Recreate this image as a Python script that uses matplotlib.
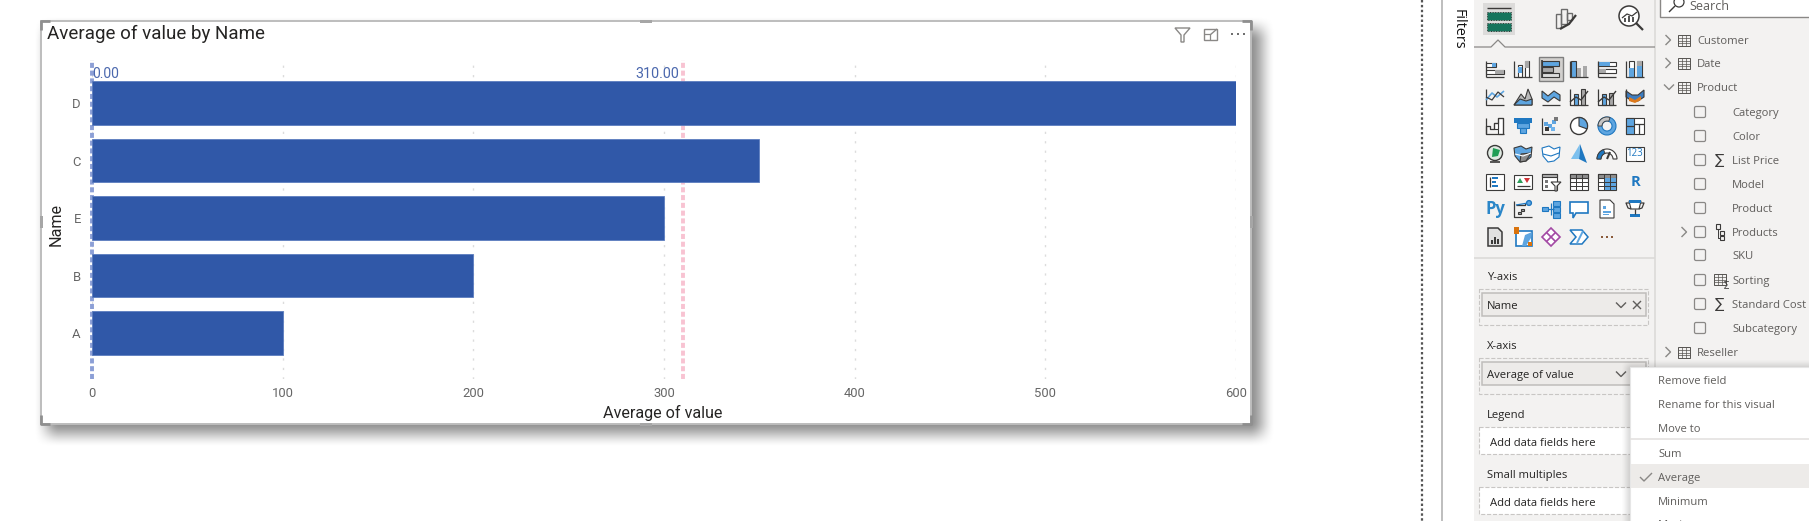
"""Power BI screenshot: average of value by name, with the report side panels."""

import matplotlib

matplotlib.use("Agg", force=True)
import matplotlib.pyplot as plt
import numpy as np
from matplotlib.patches import Circle, FancyBboxPatch, Polygon, Rectangle, Wedge

WIDTH, HEIGHT = 1809, 521

names = ["A", "B", "E", "C", "D"]
values = [100, 200, 300, 350, 600]
x_ticks = [0, 100, 200, 300, 400, 500, 600]
ref_zero = 0
ref_constant = 310

TITLE = "Average of value by Name"
X_TITLE = "Average of value"
Y_TITLE = "Name"

table_rows = [("Customer", 40), ("Date", 63), ("Product", 87), ("Reseller", 352)]
field_rows = [
    ("Category", 112, ""),
    ("Color", 136, ""),
    ("List Price", 160, "sum"),
    ("Model", 184, ""),
    ("Product", 208, ""),
    ("Products", 232, "tree"),
    ("SKU", 255, ""),
    ("Sorting", 280, "sort"),
    ("Standard Cost", 304, "sum"),
    ("Subcategory", 328, ""),
]
menu_rows = [
    ("Remove field", 380),
    ("Rename for this visual", 404),
    ("Move to", 428),
    ("Sum", 453),
    ("Average", 477),
    ("Minimum", 501),
    ("Maximum", 524),
]
icon_rows = [
    ["stack_h", "stack_v", "cluster_h", "cluster_v", "full_h", "full_v"],
    ["line", "area", "wave", "combo", "combo2", "ribbon"],
    ["waterfall", "funnel", "scatter", "pie", "donut", "treemap"],
    ["globe", "filled_map", "shape_map", "arrow", "gauge", "card"],
    ["multicard", "kpi", "slicer", "table", "matrix", "r"],
    ["py", "influencer", "decomp", "bubble", "doc", "trophy"],
    ["report", "orange", "diamond", "chevrons", "more"],
]

BAR = "#3058a8"
PANEL = "#f3f2f1"
INK = "#252423"
SOFT = "#605e5c"
DARK = "#3b3a39"
BLUE = "#5ea5e0"
DEEP = "#1f78c1"
GREY = "#a8a8a8"
UI_FONT = ["Open Sans", "DejaVu Sans"]
CHART_FONT = ["Roboto", "DejaVu Sans"]

fig = plt.figure(figsize=(WIDTH / 100, HEIGHT / 100), dpi=100, facecolor="white")
ui = fig.add_axes([0, 0, 1, 1], zorder=0)
ui.set_xlim(0, WIDTH)
ui.set_ylim(HEIGHT, 0)
ui.axis("off")


def box(x0, y0, x1, y1, fc="none", ec="none", lw=1.0, ls="-", z=3):
    ui.add_patch(Rectangle((x0, y0), x1 - x0, y1 - y0, facecolor=fc, edgecolor=ec,
                           linewidth=lw, linestyle=ls, zorder=z))


def seg(xs, ys, color=DARK, lw=1.0, ls="-", z=4):
    ui.plot(xs, ys, color=color, lw=lw, ls=ls, zorder=z, solid_capstyle="butt",
            scalex=False, scaley=False)


def label(x, y, text, size=8.1, color=SOFT, **kwargs):
    kwargs.setdefault("family", UI_FONT)
    kwargs.setdefault("va", "center")
    ui.text(x, y + 1.5, text, fontsize=size, color=color, zorder=6, **kwargs)


def chevron_right(x, y, size=5, color="#8a8886"):
    seg([x - size / 2, x + size / 2, x - size / 2], [y - size, y, y + size], color)


def chevron_down(x, y, size=5, color="#8a8886"):
    seg([x - size, x, x + size], [y - size / 2, y + size / 2, y - size / 2], color)


def table_icon(x, y):
    box(x - 6, y - 5.5, x + 6, y + 5.5, ec="#55534f", lw=0.7)
    for dx in (-2, 2):
        seg([x + dx, x + dx], [y - 5.5, y + 5.5], "#55534f", 0.5)
    for dy in (-2.5, 0.5, 3):
        seg([x - 6, x + 6], [y + dy, y + dy], "#55534f", 0.5)


def soft_shadow(x0, y0, x1, y1, blur, strength, z=1):
    """Paint a blurred dark rectangle as an RGBA image."""
    xs = np.arange(x0 - 2 * blur, x1 + 2 * blur)
    ys = np.arange(y0 - 2 * blur, y1 + 2 * blur)

    def ramp(v, a, b):
        up = np.clip((v - a + blur) / (2 * blur), 0, 1)
        down = np.clip((b - v + blur) / (2 * blur), 0, 1)
        return up * up * (3 - 2 * up) * down * down * (3 - 2 * down)

    alpha = np.outer(ramp(ys, y0, y1), ramp(xs, x0, x1)) * strength
    rgba = np.zeros(alpha.shape + (4,))
    rgba[..., 3] = alpha
    ui.imshow(rgba, extent=(xs[0], xs[-1], ys[-1], ys[0]), zorder=z, aspect="auto",
              interpolation="bilinear")
    ui.set_xlim(0, WIDTH)
    ui.set_ylim(HEIGHT, 0)


def draw_icon(kind, cx, cy):
    """Small report-gallery glyph centred on a pixel position."""

    def r(x0, y0, x1, y1, fc=BLUE, ec="none", lw=0.8):
        box(cx + x0, cy + y0, cx + x1, cy + y1, fc=fc, ec=ec, lw=lw, z=4)

    def l(xs, ys, color=DARK, lw=0.9):
        seg([cx + v for v in xs], [cy + v for v in ys], color, lw, z=5)

    def poly(points, fc=BLUE, ec="none", lw=0.8):
        ui.add_patch(Polygon([(cx + a, cy + b) for a, b in points], closed=True,
                             facecolor=fc, edgecolor=ec, linewidth=lw, zorder=4))

    def axes():
        l([-9, -9, 9], [-8, 8, 8])

    if kind == "stack_h":
        l([-9, -9], [-8, 8])
        l([-9, 9], [8, 8])
        r(-9, -6, 1, -2, "#ffffff", DARK)
        r(-3, -6, 1, -2, BLUE)
        r(-9, 1, 9, 5, "#ffffff", DARK)
        r(0, 1, 9, 5, GREY)
    elif kind == "stack_v":
        axes()
        r(-5, -4, -1, 8, "#ffffff", DARK)
        r(-5, -2, -1, 4, BLUE)
        r(2, -8, 6, 8, "#ffffff", DARK)
        r(2, -8, 6, -1, GREY)
    elif kind == "cluster_h":
        box(cx - 12, cy - 12, cx + 12, cy + 12, fc="#d2d0ce", ec="#7f7f7f", lw=1, z=3)
        l([-9, -9], [-9, 9], DARK, 1.2)
        r(-9, -8, 8, -3, BLUE, DARK)
        r(-9, -2, 2, 3, GREY, DARK)
        r(-9, 4, 8, 8, "#dddddd", DARK)
    elif kind == "cluster_v":
        axes()
        r(-8, -8, -3, 8, BLUE, DARK)
        r(-2, -1, 2, 8, GREY)
        r(4, -3, 8, 8, GREY)
    elif kind == "full_h":
        l([-9, -9], [-8, 8])
        l([-9, 9], [8, 8])
        for y0, y1, split in ((-7, -3, 3), (0, 4, -1)):
            r(-9, y0, 9, y1, "#ffffff", DARK)
            r(-9, y0, split, y1, BLUE if y0 < 0 else GREY)
    elif kind == "full_v":
        axes()
        for x0, x1, top in ((-6, -1, -1), (2, 7, -3)):
            r(x0, -8, x1, 8, "#ffffff", DARK)
            r(x0, top, x1, 8, BLUE)
        r(2, -8, 7, -3, GREY)
    elif kind == "line":
        axes()
        l([-9, -3, 2, 9], [3, -4, 0, -6], BLUE, 1.2)
        l([-9, -3, 3, 9], [0, 3, -5, 0], DARK, 0.9)
    elif kind == "area":
        poly([(-9, 8), (-2, -3), (2, 2), (5, -8), (9, 2), (9, 8)], "#b8b8b8", DARK)
        poly([(-9, 8), (-3, 2), (3, 4), (9, 2), (9, 8)], BLUE, DARK)
    elif kind == "wave":
        poly([(-9, -6), (-3, -1), (3, -6), (9, -2), (9, 4), (3, 0), (-3, 5), (-9, 1)],
             BLUE, DARK)
        l([-9, 9], [8, 8])
    elif kind in ("combo", "combo2"):
        axes()
        r(-5, -3, -1, 8, BLUE, DARK)
        r(2, -8 if kind == "combo" else -4, 6, 8, GREY, DARK)
        l([-9, -3, 2, 9], [5, 0, 3, -6], DARK, 1.0)
    elif kind == "ribbon":
        axes()
        poly([(-9, -6), (-3, -2), (3, -2), (9, -7), (9, 0), (3, 4), (-3, 4), (-9, 0)],
             "#3d7cc0", DARK)
        poly([(-6, 0), (0, 3), (6, -1), (6, 3), (0, 6), (-6, 4)], "#de7a1c")
    elif kind == "waterfall":
        axes()
        l([-9, -9, -5, -5, -1, -1, 3, 3, 8, 8], [8, 0, 0, 3, 3, -3, -3, -8, -8, 8])
        r(3, -8, 8, 8, "#ffffff", DARK)
        r(-1, -3, 3, 3, "#ffffff", DARK)
    elif kind == "funnel":
        r(-9, -8, 9, -3, DEEP)
        r(-6, -3, 6, 2, BLUE, DEEP)
        r(-3, 2, 3, 7, BLUE, DEEP)
    elif kind == "scatter":
        axes()
        for a, b, c in ((-5, -2, BLUE), (-1, 0, BLUE), (3, -4, BLUE), (2, 3, "#6fb3ec"),
                        (-4, 3, DARK), (5, -7, "#777777")):
            r(a - 1.6, b - 1.6, a + 1.6, b + 1.6, c)
    elif kind == "pie":
        ui.add_patch(Circle((cx, cy), 8.5, facecolor="#ffffff", edgecolor=DARK, lw=1, zorder=4))
        ui.add_patch(Wedge((cx, cy), 8.5, -90, 20, facecolor=BLUE, edgecolor=DARK, lw=0.8, zorder=5))
    elif kind == "donut":
        ui.add_patch(Wedge((cx, cy), 9, 0, 360, width=4, facecolor=BLUE, edgecolor=DEEP, lw=0.8, zorder=4))
        ui.add_patch(Wedge((cx, cy), 9, 180, 290, width=4, facecolor="#c4c4c4", edgecolor=DARK, lw=0.6, zorder=5))
    elif kind == "treemap":
        r(-9, -8, 9, 8, "#ffffff", DARK)
        r(-9, -8, -1, 8, BLUE, DARK)
        l([-9, -1], [0, 0])
        l([-1, 9], [-2, -2])
        l([4, 4], [-2, 8])
    elif kind == "globe":
        ui.add_patch(Circle((cx, cy - 1), 7.5, facecolor="#dfe9e2", edgecolor=DARK, lw=1, zorder=4))
        poly([(-2, -6), (5, -4), (3, 2), (-3, 3)], "#1f9d55")
        l([-5, 5], [8, 8], DARK, 1.2)
    elif kind in ("filled_map", "shape_map"):
        fill = BLUE if kind == "filled_map" else "#ffffff"
        poly([(-9, -6), (-2, -8), (3, -5), (9, -7), (8, 3), (3, 7), (-3, 8), (-8, 2)],
             fill, DEEP if kind == "shape_map" else DARK)
        if kind == "filled_map":
            poly([(-2, 0), (8, -1), (3, 7), (-3, 8)], "#8c8c8c", DARK)
        l([-8, 0, 8], [0, 2, -1], DEEP if kind == "shape_map" else "#ffffff", 0.8)
    elif kind == "arrow":
        poly([(1, -10), (8, 9), (0, 5)], "#1f78c1")
        poly([(1, -10), (-8, 5), (0, 5)], "#7cc0ee")
    elif kind == "gauge":
        ui.add_patch(Wedge((cx, cy + 5), 10, 180, 360, width=4, facecolor="#ffffff", edgecolor=DARK, lw=0.8, zorder=4))
        ui.add_patch(Wedge((cx, cy + 5), 10, 180, 250, width=4, facecolor=DEEP, edgecolor=DARK, lw=0.6, zorder=5))
        l([0, 3], [5, -2], DARK, 1.5)
    elif kind == "card":
        r(-9, -7, 9, 7, "#ffffff", DARK)
        label(cx, cy - 1.5, "123", 7.0, DEEP, ha="center")
    elif kind == "multicard":
        r(-9, -8, 9, 8, "#ffffff", DARK)
        l([-5, -5], [-5, 5], DARK)
        for y, w in ((-4, 6), (0, 4), (4, 6)):
            r(-3, y - 1, -3 + w, y + 1, DEEP)
    elif kind == "kpi":
        r(-9, -7, 9, 7, "#ffffff", DARK)
        poly([(-6, 1), (-3, -4), (0, 1)], "#2e9e5b")
        poly([(1, -4), (7, -4), (4, 1)], "#d13438")
        l([-6, 7], [4, 4], DARK)
    elif kind == "slicer":
        r(-9, -8, 6, 8, "#ffffff", DARK)
        r(-9, -8, 6, -5, "#b0b0b0", DARK)
        r(-6, -2, -3, 1, "#777777")
        r(-6, 3, -3, 6, "#777777")
        poly([(0, 0), (10, 0), (6, 4), (6, 9), (4, 9), (4, 4)], "#ffffff", DARK)
    elif kind in ("table", "matrix"):
        r(-9, -8, 9, 8, "#ffffff", DARK)
        r(-9, -8, 9, -4, "#8f8f8f", DARK)
        if kind == "matrix":
            r(-3, -4, 9, 8, BLUE)
        for a in (-3, 3):
            l([a, a], [-8, 8], DARK, 0.7)
        for b in (0, 4):
            l([-9, 9], [b, b], DARK, 0.7)
    elif kind == "r":
        label(cx, cy - 1.5, "R", 10.5, DEEP, ha="center", fontweight="bold")
    elif kind == "py":
        label(cx, cy - 1.5, "Py", 12.0, "#2a86c8", ha="center", fontweight="bold")
    elif kind == "influencer":
        axes()
        l([-7, 2, 2], [-4, -4, -6], DARK)
        l([-7, 5], [-4, -6], DEEP)
        ui.add_patch(Circle((cx + 6, cy - 6), 2.4, facecolor=BLUE, edgecolor=DEEP, zorder=5))
        r(-2, 0, 1, 2, GREY, DARK)
        r(-5, 3, -2, 5, GREY, DARK)
    elif kind == "decomp":
        r(-9, -2, -3, 2, BLUE, DEEP)
        l([-3, 0, 0, 3], [0, 0, 0, 0], DEEP)
        l([0, 0], [-6, 6], DEEP)
        for y in (-6, 0, 6):
            r(2, y - 2.5, 9, y + 2.5, BLUE, DEEP)
    elif kind == "bubble":
        poly([(-9, -7), (9, -7), (9, 4), (-3, 4), (-6, 9), (-6, 4), (-9, 4)], "#ffffff", DEEP, 1.2)
    elif kind == "doc":
        poly([(-7, -9), (3, -9), (7, -5), (7, 9), (-7, 9)], "#ffffff", DARK)
        r(-4, -3, -1, 0, BLUE)
        r(-4, 2, 4, 3.5, BLUE)
        r(-4, 5, 2, 6, BLUE)
    elif kind == "trophy":
        poly([(-6, -8), (6, -8), (4, 0), (-4, 0)], "#ffffff", DARK)
        r(-6, -9, 6, -6, DEEP)
        l([-6, -9, -7, -4], [-6, -6, -1, 0])
        l([6, 9, 7, 4], [-6, -6, -1, 0])
        l([0, 0], [0, 5])
        r(-5, 5, 5, 8, DEEP)
    elif kind == "report":
        poly([(-7, -9), (3, -9), (7, -5), (7, 9), (-7, 9)], "#e0e0e0", DARK, 1.1)
        r(-4, 3, -2, 7, DARK)
        r(-1, 0, 1, 7, DARK)
        r(2, 2, 4, 7, DARK)
    elif kind == "orange":
        r(-7, -6, 9, 9, "#ffffff", DEEP, 1.2)
        poly([(-1, 9), (2, -2), (9, -5), (8, 1), (3, 9)], BLUE)
        r(-9, -10, -4, -3, "#d9730d")
        r(5, 5, 9, 9, "#d9730d")
    elif kind == "diamond":
        poly([(0, -9), (9, 0), (0, 9), (-9, 0)], "#ffffff", "#a349a4", 1.2)
        l([-4.5, 4.5], [-4.5, 4.5], "#a349a4", 1.2)
        l([-4.5, 4.5], [4.5, -4.5], "#a349a4", 1.2)
    elif kind == "chevrons":
        poly([(-9, -7), (3, -7), (9, 0), (3, 7), (-9, 7), (-3, 0)], "#ffffff", DEEP, 1.1)
        l([-2, 4], [6, -6], BLUE, 1.4)
    elif kind == "more":
        for dx in (-5, 0, 5):
            r(dx - 0.7, -0.7, dx + 0.7, 0.7, "#8a5a3a")


# page, panes and separators
box(1442, 0, 1474, HEIGHT, fc="white", z=1)
box(1474, 0, WIDTH, HEIGHT, fc=PANEL, z=1)
seg([1422, 1422], [0, HEIGHT], "#555555", 1.6, (0, (1.1, 1.1)))
seg([1442, 1442], [0, HEIGHT], "#b3b3b3", 1.2)
seg([1655, 1655], [0, HEIGHT], "#dcdad8", 1.2)
label(1458, 28, "Filters", 10.4, "#111111", rotation=270, ha="center")

# visual frame with its drop shadow
soft_shadow(46, 28, 1263, 435, 13, 0.44)
box(41, 21, 1251, 424, fc="white", ec="#bdbdbd", lw=1.4, z=2)
for hx, hy, hw, hh in ((640, 20, 12, 3), (640, 423, 12, 3), (40, 216, 3, 12), (1250, 216, 3, 12)):
    box(hx, hy, hx + hw, hy + hh, fc="#a6a6a6", z=3)
for cx, cy, sx, sy in ((41, 21, 1, 1), (1251, 21, -1, 1), (41, 424, 1, -1), (1251, 424, -1, -1)):
    seg([cx + sx * 9, cx, cx], [cy, cy, cy + sy * 9], "#8f8f8f", 2.0)

ui.text(47, 34, TITLE, fontsize=13.5, color=INK, family=CHART_FONT, va="center", zorder=6)

# header icons on the visual
ui.add_patch(Polygon([(1175, 28), (1190, 28), (1184, 35), (1184, 42), (1181, 42), (1181, 35)],
                     closed=True, facecolor="none", edgecolor="#8a8886", linewidth=1.0, zorder=6))
box(1204, 29, 1217, 40, ec="#8a8886", z=6)
seg([1210, 1217], [35, 29], "#8a8886", 1.0, z=6)
seg([1204, 1210, 1210], [34, 34, 40], "#8a8886", 0.9, z=6)
for dx in (1232, 1238, 1244):
    box(dx - 1, 33, dx + 1, 35, fc="#6f6f6f", z=6)

# the chart itself, placed on the frame by pixel bounds
ax = fig.add_axes([92 / WIDTH, (HEIGHT - 379) / HEIGHT, (1236 - 92) / WIDTH, (379 - 60) / HEIGHT],
                  zorder=2, facecolor="none")
positions = np.arange(len(names))
ax.barh(positions, values, height=0.765, color=BAR, edgecolor="#5c7dbf", linewidth=0.6, zorder=3)
ax.set_xlim(0, 600)
ax.set_ylim(-0.8, 4.748)
ax.set_xticks(x_ticks)
ax.set_yticks(positions)
ax.set_yticklabels(names)
ax.tick_params(axis="x", length=0, labelcolor="#666666", labelsize=9.4, pad=6)
ax.tick_params(axis="y", length=0, labelcolor="#666666", labelsize=9.4, pad=8)
for tick in ax.get_xticklabels() + ax.get_yticklabels():
    tick.set_family(CHART_FONT)
for side in ax.spines.values():
    side.set_visible(False)
ax.grid(axis="x", color="#dcdcdc", linewidth=1.0, linestyle=(0, (1.6, 5.2)), zorder=1)
ax.set_axisbelow(True)
ax.axvline(ref_zero, color="#8c9fd6", linewidth=2.8, linestyle=(0, (1.3, 0.7)), zorder=2, clip_on=False)
ax.axvline(ref_constant, color="#f8c3d2", linewidth=2.8, linestyle=(0, (1.3, 0.7)), zorder=2)
ax.annotate(f"{ref_zero:.2f}", (ref_zero, 1), xycoords=("data", "axes fraction"), xytext=(0, -14),
            textcoords="offset pixels", color="#4a67ad", fontsize=10.0, ha="left", va="center",
            family=CHART_FONT)
ax.annotate(f"{ref_constant:.2f}", (ref_constant, 1), xycoords=("data", "axes fraction"), xytext=(-4, -14),
            textcoords="offset pixels", color="#4a67ad", fontsize=10.4, ha="right", va="center",
            family=CHART_FONT)
ui.text(663, 413, X_TITLE, fontsize=11.6, color=INK, family=CHART_FONT, ha="center", va="center", zorder=6)
ui.text(56, 224, Y_TITLE, fontsize=11.6, color=INK, family=CHART_FONT,
        rotation=90, ha="center", va="center", zorder=6)

# visualizations pane
box(1483, 3, 1515, 35, fc="#dcdbda", z=2)
seg([1487, 1511], [8, 8], DARK, 1.0)
box(1487, 12, 1511, 20, fc="#15745c", ec="#333333", lw=0.7, ls=":", z=3)
box(1487, 23, 1511, 31, fc="#15745c", ec="#333333", lw=0.7, ls=":", z=3)
# format brush and analytics glass
for x0, y0, x1, y1 in ((1556, 14, 1561, 28), (1561, 9, 1567, 24), (1567, 13, 1572, 20)):
    box(x0, y0, x1, y1, ec="#6b6b6b", lw=1.0, z=3)
seg([1560, 1569, 1576], [29, 24, 15], DARK, 1.6)
ui.add_patch(Circle((1629, 16), 10, facecolor="white", edgecolor=DARK, lw=1.1, zorder=3))
seg([1636, 1643], [23, 30], DARK, 1.6)
seg([1622, 1627, 1632, 1637], [18, 14, 16, 12], DARK, 0.9)
for bx, bh in ((1624, 4), (1628, 6), (1632, 5)):
    box(bx, 22 - bh, bx + 2.4, 22, fc="#555555", z=4)
seg([1474, 1491, 1498, 1505, 1655], [47, 47, 40, 47, 47], "#8a8886", 0.9)
seg([1474, 1655], [258, 258], "#dcdad8", 1.2)

for row, (kinds, y) in enumerate(zip(icon_rows, [69, 97, 126, 154, 182, 209, 237])):
    for col, kind in enumerate(kinds):
        draw_icon(kind, 1495 + 28 * col, y)

# field wells
label(1487, 276, "Y-axis", 8.1, INK)
box(1479, 289, 1648, 325, fc=PANEL, ec="#c8c6c4", ls="--", lw=0.8, z=2)
box(1482, 293, 1646, 316, fc="#edebe9", ec="#bfbdbb", lw=1.1, z=3)
label(1487, 305, "Name", 8.1, INK)
chevron_down(1621, 305, 5, SOFT)
seg([1633, 1641], [301, 309], SOFT)
seg([1633, 1641], [309, 301], SOFT)
label(1487, 345, "X-axis", 8.1, INK)
box(1479, 358, 1648, 394, fc=PANEL, ec="#c8c6c4", ls="--", lw=0.8, z=2)
box(1482, 362, 1646, 385, fc="#edebe9", ec="#bfbdbb", lw=1.1, z=3)
label(1487, 374, "Average of value", 8.1, INK)
chevron_down(1621, 374, 5, SOFT)
label(1487, 414, "Legend", 8.1, INK)
box(1479, 427, 1648, 454, fc="white", ec="#c8c6c4", ls="--", lw=0.8, z=2)
label(1490, 442, "Add data fields here", 8.1, INK)
label(1487, 474, "Small multiples", 8.1, INK)
box(1479, 487, 1648, 514, fc="white", ec="#c8c6c4", ls="--", lw=0.8, z=2)
label(1490, 502, "Add data fields here", 8.1, INK)

# fields pane
box(1660, -3, WIDTH + 3, 17, fc="white", ec="#8a8886", z=2)
label(1689, 5, "Search", 9.0, SOFT)
ui.add_patch(Circle((1679, 2), 5, facecolor="none", edgecolor=DARK, lw=0.9, zorder=4))
seg([1675, 1669], [6, 12], DARK, 1.0)
for text, y in table_rows:
    if text == "Product":
        chevron_down(1669, y, 5)
    else:
        chevron_right(1668, y)
    table_icon(1684, y)
    label(1697, y, text)
for text, y, mark in field_rows:
    ui.add_patch(FancyBboxPatch((1695, y - 5), 10, 10, boxstyle="round,pad=0.5,rounding_size=1.5",
                                facecolor=PANEL, edgecolor="#8a8886", linewidth=0.9, zorder=3))
    label(1732, y, text)
    if mark == "sum":
        label(1720, y - 1.5, "∑", 10.0, DARK, ha="center", family=["DejaVu Sans"])
    elif mark == "tree":
        chevron_right(1684, y)
        box(1716, y - 8, 1720, y - 3, ec=DARK, lw=0.8)
        box(1720, y - 1, 1724, y + 3, ec=DARK, lw=0.8)
        box(1720, y + 4, 1724, y + 8, ec=DARK, lw=0.8)
        seg([1718, 1718, 1720], [y - 3, y + 6, y + 6], DARK, 0.7)
    elif mark == "sort":
        table_icon(1720, y - 1)
        label(1726, y + 3, "∑", 5.5, DARK, ha="center", family=["DejaVu Sans"])

# context menu over the wells and the field list
soft_shadow(1626, 364, 1816, 530, 6, 0.16, z=6)
box(1630, 367, WIDTH + 3, HEIGHT + 3, fc="white", ec="#e6e6e6", lw=0.8, z=7)
box(1630.5, 464, WIDTH, 488, fc="#edebe9", z=7)
seg([1630, WIDTH], [439, 439], "#e4e2e0", 1.2, z=8)
seg([1640, 1644, 1652], [477, 481, 473], "#8a8886", 1.0, z=8)
chevron_right(1794, 428, 5)
for text, y in menu_rows:
    ui.text(1658, y + 1.5, text, fontsize=8.1, color=SOFT, family=UI_FONT, va="center", zorder=9)

fig.savefig("out.png", dpi=100, facecolor="white")
plt.close(fig)
